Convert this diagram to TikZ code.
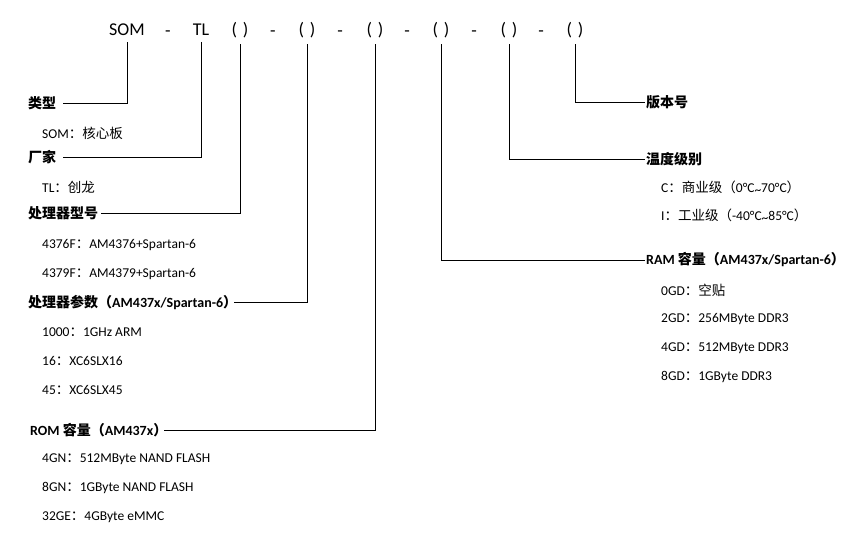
\documentclass[tikz,border=0pt]{standalone}
\usepackage{fontspec}
\setmainfont{Carlito}
\newfontfamily\cjk{Noto Sans CJK SC}
\begin{document}
\begin{tikzpicture}[x=1pt,y=-1pt,
 top/.style={font=\fontsize{18}{20}\selectfont,inner sep=0pt,anchor=center},
 sep/.style={font=\fontsize{18}{20}\selectfont,inner sep=0pt,anchor=center},
 lab/.style={font=\fontsize{14}{16}\selectfont\bfseries,inner sep=1pt,anchor=west},
 sub/.style={font=\fontsize{13.5}{15}\selectfont,inner sep=0pt,anchor=west},
 ln/.style={line width=0.8pt}]
\useasboundingbox (0,0) rectangle (861,541);
\node[top] (t0) at (127,30) {SOM};
\node[sep] (d0) at (168,34) {-};
\node[top] (t1) at (201,30) {TL};
\foreach \x/\n in {240/a,307/b,375/c,441/d,509/e,575/f}{\node[top] (p\n) at (\x,30) {(\,\,)};}
\foreach \x/\n in {273/1,340/2,407/3,474/4,541/5}{\node[sep] (d\n) at (\x,34) {-};}
\node[lab] (l0) at (27,103) {\cjk 类型};
\node[lab] (l1) at (27,157) {\cjk 厂家};
\node[lab] (l2) at (27,213) {\cjk 处理器型号};
\node[lab] (l3) at (27,302) {{\cjk 处理器参数（}AM437x/Spartan-6{\cjk ）}};
\node[lab] (l4) at (29,430) {ROM {\cjk 容量（}AM437x{\cjk ）}};
\node[lab] (l5) at (645,260) {RAM {\cjk 容量（}AM437x/Spartan-6{\cjk ）}};
\node[lab] (l6) at (645,159) {\cjk 温度级别};
\node[lab] (l7) at (645,102) {\cjk 版本号};
\draw[ln] ([yshift=-6pt]t0.south) |- ([xshift=6pt]l0.east);
\draw[ln] ([yshift=-6pt]t1.south) |- ([xshift=6pt]l1.east);
\draw[ln] ([yshift=-6pt]pa.south) |- ([xshift=2pt]l2.east);
\draw[ln] ([yshift=-6pt]pb.south) |- ([xshift=-4pt]l3.east);
\draw[ln] ([yshift=-6pt]pc.south) |- ([xshift=-4pt]l4.east);
\draw[ln] ([yshift=-6pt]pd.south) |- (l5.west);
\draw[ln] ([yshift=-6pt]pe.south) |- (l6.west);
\draw[ln] ([yshift=-6pt]pf.south) |- (l7.west);
\node[sub] (s1) at (42,133) {SOM{\cjk ：核心板}};
\node[sub] (s2) at (42,187) {TL{\cjk ：创龙}};
\node[sub] (s3) at (42,245) {4376F{\cjk ：}AM4376+Spartan-6};
\node[sub] (s4) at (42,274) {4379F{\cjk ：}AM4379+Spartan-6};
\node[sub] (s5) at (42,332) {1000{\cjk ：}1GHz ARM};
\node[sub] (s6) at (42,361) {16{\cjk ：}XC6SLX16};
\node[sub] (s7) at (42,390) {45{\cjk ：}XC6SLX45};
\node[sub] (s8) at (42,459) {4GN{\cjk ：}512MByte NAND FLASH};
\node[sub] (s9) at (42,488) {8GN{\cjk ：}1GByte NAND FLASH};
\node[sub] (s10) at (42,517) {32GE{\cjk ：}4GByte eMMC};
\node[sub] (r1) at (661,188) {C{\cjk ：商业级（}0°C\raisebox{-0.3ex}{\textasciitilde}70°C{\cjk ）}};
\node[sub] (r2) at (661,216) {I{\cjk ：工业级（}-40°C\raisebox{-0.3ex}{\textasciitilde}85°C{\cjk ）}};
\node[sub] (r3) at (661,290) {0GD{\cjk ：空贴}};
\node[sub] (r4) at (661,319) {2GD{\cjk ：}256MByte DDR3};
\node[sub] (r5) at (661,348) {4GD{\cjk ：}512MByte DDR3};
\node[sub] (r6) at (661,377) {8GD{\cjk ：}1GByte DDR3};
\end{tikzpicture}
\end{document}
